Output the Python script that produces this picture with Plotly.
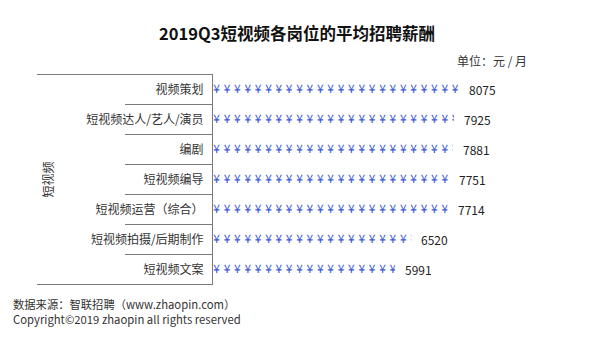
import math
import plotly.graph_objects as go

# ---- data ----
categories = ["视频策划", "短视频达人/艺人/演员", "编剧", "短视频编导",
              "短视频运营（综合）", "短视频拍摄/后期制作", "短视频文案"]
values = [8075, 7925, 7881, 7751, 7714, 6520, 5991]
group_label = "短视频"
title_text = "2019Q3短视频各岗位的平均招聘薪酬"
unit_text = "单位：元 / 月"
source_lines = ["数据来源：智联招聘（www.zhaopin.com）",
                "Copyright©2019 zhaopin all rights reserved"]
symbol = "¥"
symbol_unit = 341  # value represented by one ¥ symbol

FONT = "Noto Sans CJK SC"
BLUE = "#3b5bd2"
TEXT = "#333333"
LINE = "#7a7a7a"

W, H = 594, 347
axis_left_px = 213
x_max = 12530

fig = go.Figure()

# pictograph symbols
xs, ys = [], []
for cat, v in zip(categories, values):
    n = math.ceil(v / symbol_unit)
    for k in range(n):
        xs.append((k + 0.35) * symbol_unit)
        ys.append(cat)
fig.add_trace(go.Scatter(
    x=xs, y=ys, mode="text", text=[symbol] * len(xs),
    textfont=dict(family=FONT, size=12, color=BLUE),
    hoverinfo="skip", showlegend=False,
))

shapes = []
annotations = []
n_cat = len(categories)
for i, (cat, v) in enumerate(zip(categories, values)):
    n = math.ceil(v / symbol_unit)
    # clip symbols beyond the value
    shapes.append(dict(type="rect", xref="x", yref="y",
                       x0=v, x1=n * symbol_unit + 1, y0=i - 0.45, y1=i + 0.45,
                       fillcolor="white", line=dict(width=0), layer="above"))
    annotations.append(dict(x=v, y=cat, xref="x", yref="y", text=str(v),
                            showarrow=False, xanchor="left", xshift=8,
                            font=dict(family=FONT, size=12, color="#222222")))

# table lines on the left
x_axis_paper = axis_left_px / W
for i in range(n_cat - 1):
    shapes.append(dict(type="line", xref="paper", yref="y",
                       x0=125 / W, x1=x_axis_paper, y0=i + 0.5, y1=i + 0.5,
                       line=dict(color=LINE, width=1)))
for yv in (-0.5, n_cat - 0.5):
    shapes.append(dict(type="line", xref="paper", yref="y",
                       x0=37 / W, x1=x_axis_paper, y0=yv, y1=yv,
                       line=dict(color=LINE, width=1)))

plot_top, plot_bottom = 74, 285
ph = plot_bottom - plot_top

def py(pixel_y):
    return (plot_bottom - pixel_y) / ph

annotations.append(dict(x=47 / W, y=0.5, xref="paper", yref="paper",
                        text=group_label, textangle=-90, showarrow=False,
                        xanchor="center", yanchor="middle",
                        font=dict(family=FONT, size=12, color=TEXT)))
annotations.append(dict(x=529 / W, y=py(60), xref="paper", yref="paper",
                        text=unit_text, showarrow=False, xanchor="right",
                        yanchor="middle",
                        font=dict(family=FONT, size=12, color=TEXT)))
annotations.append(dict(x=11 / W, y=py(311), xref="paper", yref="paper",
                        text="<br>".join(source_lines), showarrow=False,
                        xanchor="left", yanchor="middle", align="left",
                        font=dict(family=FONT, size=11.3, color=TEXT)))

fig.update_layout(
    width=W, height=H,
    margin=dict(l=0, r=0, t=plot_top, b=H - plot_bottom, pad=0),
    paper_bgcolor="white", plot_bgcolor="white",
    title=dict(text="<b>" + title_text + "</b>", x=0.5, xanchor="center",
               y=1 - 34 / H, yanchor="middle", yref="container",
               font=dict(family=FONT, size=16.5, color="#111111")),
    xaxis=dict(domain=[x_axis_paper, 1], range=[0, x_max], visible=False,
               showgrid=False, zeroline=False),
    yaxis=dict(categoryorder="array", categoryarray=categories,
               autorange="reversed", showgrid=False, zeroline=False,
               showline=True, linecolor=LINE, linewidth=1, ticks="",
               ticklabelstandoff=6,
               tickfont=dict(family=FONT, size=12, color=TEXT)),
    shapes=shapes,
    annotations=annotations,
    showlegend=False,
)

fig.write_html("out.html")
